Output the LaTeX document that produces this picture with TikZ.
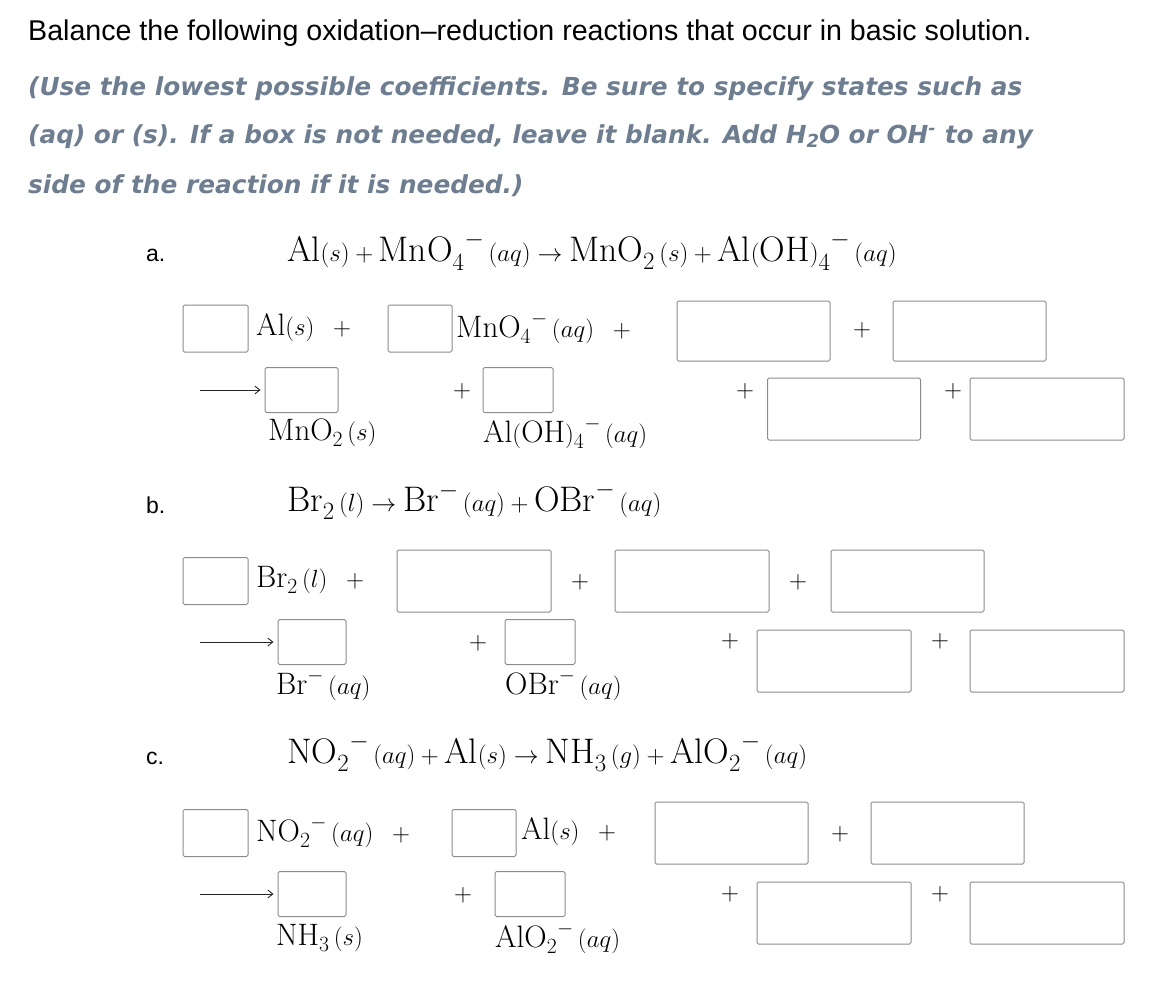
\documentclass[tikz,border=0pt]{standalone}
\usepackage{fontspec}
\setsansfont{Liberation Sans}
\newfontfamily\instr{DejaVu Sans}
\usetikzlibrary{arrows.meta}
\definecolor{instrc}{HTML}{6E7E90}
\begin{document}
\begin{tikzpicture}[x=1pt,y=-1pt,
  bx/.style={draw=black!45,line width=1pt,fill=white,rounded corners=1.5pt},
  eq/.style={anchor=west,inner sep=0pt,font=\fontsize{35.5}{40}\selectfont},
  rt/.style={anchor=west,inner sep=0pt,font=\fontsize{31}{34}\selectfont},
  pl/.style={inner sep=0pt,font=\fontsize{28}{30}\selectfont},
  lab/.style={anchor=west,inner sep=0pt,font=\sffamily\fontsize{23}{26}\selectfont},
  hd/.style={anchor=west,inner sep=0pt,font=\sffamily\fontsize{28.6}{32}\selectfont},
  ins/.style={anchor=west,inner sep=0pt,text=instrc,font=\instr\bfseries\itshape\fontsize{24.8}{28}\selectfont},
  arr/.style={-{Straight Barb[length=5pt,width=8pt]},line width=0.9pt,black!85,shorten >=4pt}]
\useasboundingbox (0,0) rectangle (1158,988);
\node[hd] (h) at (28,33) {Balance the following oxidation–reduction reactions that occur in basic solution.};
\node[ins] (i1) at (28,89) {(Use the lowest possible coefficients. Be sure to specify states such as};
\node[ins] (i2) at (28,137) {(aq) or (s). If a box is not needed, leave it blank. Add H\raisebox{-0.3ex}{\fontsize{18}{20}\selectfont 2}O or OH\textsuperscript{-} to any};
\node[ins] (i3) at (28,186) {side of the reaction if it is needed.)};
% a
\node[lab] (la) at (146,255) {a.};
\node[eq] (ea) at (287,251) {$\mathrm{Al}(s)+\mathrm{MnO_4}^{-}\,(aq)\rightarrow\mathrm{MnO_2}\,(s)+\mathrm{Al(OH)_4}^{-}\,(aq)$};
\node[bx,minimum width=65,minimum height=47] (a1) at (215.5,328.5) {};
\node[rt] (ta1) at (256,328) {$\mathrm{Al}(s)$\ \ $+$};
\node[bx,minimum width=64,minimum height=47] (a2) at (420,328.5) {};
\node[rt] (ta2) at (456,328) {$\mathrm{MnO_4}^{-}\,(aq)$\ \ $+$};
\node[bx,minimum width=153,minimum height=60] (a3) at (753.5,331) {};
\node[pl] (pa1) at (862,330) {$+$};
\node[bx,minimum width=153,minimum height=60] (a4) at (969.5,331) {};
\coordinate (sa) at (200,390);
\node[bx,minimum width=73,minimum height=45] (a5) at (301.5,390) {};
\draw[arr] (sa) -- (a5.west);
\node[pl] (pa2) at (462,391) {$+$};
\node[bx,minimum width=70,minimum height=45] (a6) at (518,390) {};
\node[pl] (pa3) at (745,391) {$+$};
\node[bx,minimum width=153,minimum height=62] (a7) at (844,409) {};
\node[pl] (pa4) at (953,391) {$+$};
\node[bx,minimum width=154,minimum height=62] (a8) at (1047,409) {};
\node[rt] (la5) at (268,433) {$\mathrm{MnO_2}\,(s)$};
\node[rt] (la6) at (483,433) {$\mathrm{Al(OH)_4}^{-}\,(aq)$};
% b
\node[lab] (lb) at (146,505) {b.};
\node[eq] (eb) at (287,501) {$\mathrm{Br_2}\,(l)\rightarrow\mathrm{Br}^{-}\,(aq)+\mathrm{OBr}^{-}\,(aq)$};
\node[bx,minimum width=65,minimum height=47] (b1) at (215.5,581) {};
\node[rt] (tb1) at (256,580) {$\mathrm{Br_2}\,(l)$\ \ $+$};
\node[bx,minimum width=154,minimum height=62] (b2) at (474,581) {};
\node[pl] (pb1) at (580,582) {$+$};
\node[bx,minimum width=154,minimum height=62] (b3) at (692,581) {};
\node[pl] (pb2) at (798,582) {$+$};
\node[bx,minimum width=153,minimum height=62] (b4) at (907.5,581) {};
\coordinate (sb) at (200,642);
\node[bx,minimum width=68,minimum height=45] (b5) at (312,642) {};
\draw[arr] (sb) -- (b5.west);
\node[pl] (pb3) at (478,643) {$+$};
\node[bx,minimum width=70,minimum height=45] (b6) at (540,642) {};
\node[pl] (pb4) at (730,641) {$+$};
\node[bx,minimum width=154,minimum height=62] (b7) at (834,661) {};
\node[pl] (pb5) at (940,641) {$+$};
\node[bx,minimum width=154,minimum height=62] (b8) at (1047,661) {};
\node[rt] (lb5) at (276,685) {$\mathrm{Br}^{-}\,(aq)$};
\node[rt] (lb6) at (505,685) {$\mathrm{OBr}^{-}\,(aq)$};
% c
\node[lab] (lc) at (146,758) {c.};
\node[eq] (ec) at (287,753) {$\mathrm{NO_2}^{-}\,(aq)+\mathrm{Al}(s)\rightarrow\mathrm{NH_3}\,(g)+\mathrm{AlO_2}^{-}\,(aq)$};
\node[bx,minimum width=65,minimum height=47] (c1) at (215.5,833) {};
\node[rt] (tc1) at (256,832) {$\mathrm{NO_2}^{-}\,(aq)$\ \ $+$};
\node[bx,minimum width=64,minimum height=47] (c2) at (484,833) {};
\node[rt] (tc2) at (521,832) {$\mathrm{Al}(s)$\ \ $+$};
\node[bx,minimum width=153,minimum height=62] (c3) at (731.5,833) {};
\node[pl] (pc1) at (840,834) {$+$};
\node[bx,minimum width=153,minimum height=62] (c4) at (947.5,833) {};
\coordinate (sc) at (200,894);
\node[bx,minimum width=68,minimum height=45] (c5) at (312,894) {};
\draw[arr] (sc) -- (c5.west);
\node[pl] (pc2) at (463,895) {$+$};
\node[bx,minimum width=70,minimum height=45] (c6) at (530,894) {};
\node[pl] (pc3) at (730,894) {$+$};
\node[bx,minimum width=154,minimum height=62] (c7) at (834,913) {};
\node[pl] (pc4) at (940,894) {$+$};
\node[bx,minimum width=154,minimum height=62] (c8) at (1047,913) {};
\node[rt] (lc5) at (276,938) {$\mathrm{NH_3}\,(s)$};
\node[rt] (lc6) at (495,938) {$\mathrm{AlO_2}^{-}\,(aq)$};
\end{tikzpicture}
\end{document}
